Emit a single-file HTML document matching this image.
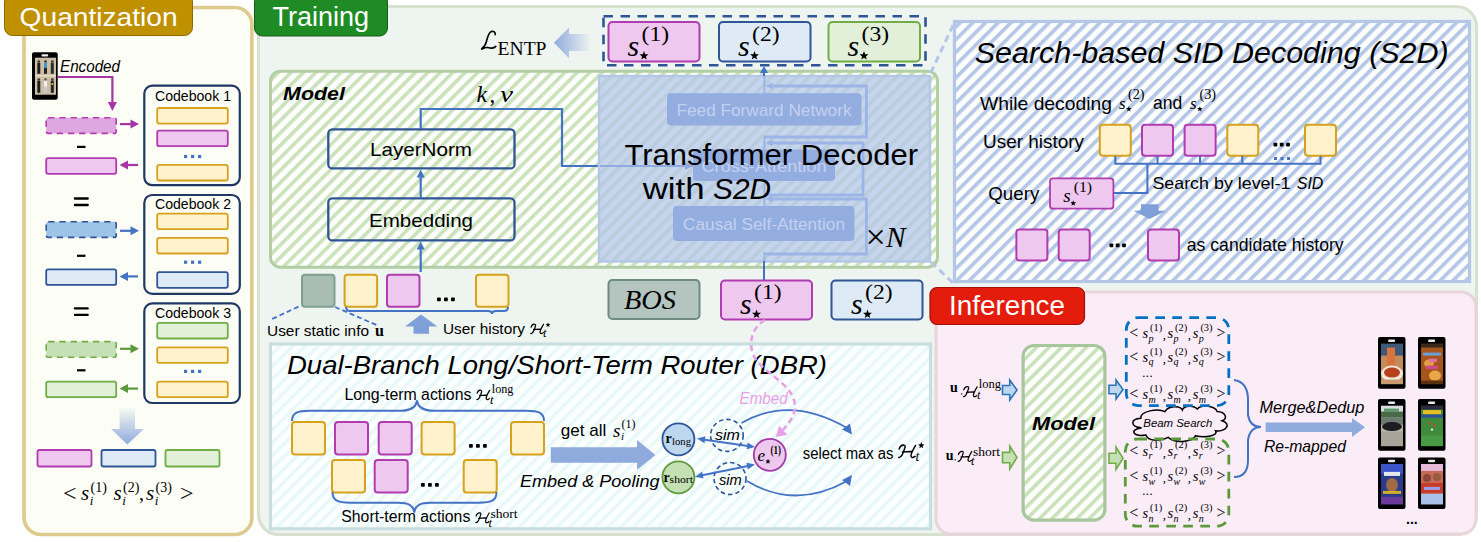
<!DOCTYPE html>
<html><head><meta charset="utf-8"><style>
html,body{margin:0;padding:0;background:#fff;width:1481px;height:542px;overflow:hidden;}
svg{display:block;font-family:"Liberation Sans", sans-serif;}
</style></head><body>
<svg width="1481" height="542" viewBox="0 0 1481 542">
<defs>
 <filter id="blur1" x="-10%" y="-10%" width="120%" height="120%"><feGaussianBlur stdDeviation="0.7"/></filter>
 <pattern id="hgreen" width="8.8" height="8.8" patternUnits="userSpaceOnUse" patternTransform="rotate(45)">
  <rect width="8.8" height="8.8" fill="#ffffff"/><rect width="3.6" height="8.8" fill="#c9e2b9"/>
 </pattern>
 <pattern id="hblue" width="9" height="9" patternUnits="userSpaceOnUse" patternTransform="rotate(45)">
  <rect width="9" height="9" fill="#ffffff"/><rect width="3.7" height="9" fill="#b4c7e7"/>
 </pattern>
 <pattern id="hcyan" width="9" height="9" patternUnits="userSpaceOnUse" patternTransform="rotate(45)">
  <rect width="9" height="9" fill="#fbffff"/><rect width="3.2" height="9" fill="#e8f8f8"/>
 </pattern>
 <linearGradient id="gdown" x1="0" y1="0" x2="0" y2="1">
  <stop offset="0" stop-color="#8faadc" stop-opacity="0.05"/><stop offset="1" stop-color="#8faadc" stop-opacity="1"/>
 </linearGradient>
 <linearGradient id="gleft" x1="0" y1="0" x2="1" y2="0">
  <stop offset="0" stop-color="#8faadc" stop-opacity="1"/><stop offset="1" stop-color="#8faadc" stop-opacity="0.05"/>
 </linearGradient>
</defs>
<rect x="24" y="7.5" width="227.9" height="527" rx="17" fill="#fcfdf5" stroke="#dccb8c" stroke-width="3.6" />
<rect x="4.5" y="-6" width="188" height="41.5" rx="8" fill="#bf9000" stroke="#8c6a00" stroke-width="1" />
<text x="19.6" y="25.7" font-family="'Liberation Sans', sans-serif" font-size="25" fill="#fff" font-weight="normal" font-style="normal" text-anchor="start" textLength="158" lengthAdjust="spacingAndGlyphs" >Quantization</text>
<rect x="32" y="52.2" width="25.7" height="47.6" rx="2" fill="#000" stroke="none" stroke-width="0" />
<rect x="41.509" y="54.342000000000006" width="6.682" height="2.142" rx="1" fill="#eee" stroke="none" stroke-width="0" />
<g filter="url(#blur1)"><rect x="35" y="57.7" width="21" height="37" fill="#cdbfa5"/><rect x="35" y="75" width="21" height="1.5" fill="#e8dcc0"/><circle cx="38.8" cy="61.5" r="1.3" fill="#333"/><rect x="37.3" y="62.8" width="3" height="11" fill="#1e1e1e"/><circle cx="45.5" cy="61.5" r="1.3" fill="#3a3030"/><rect x="44" y="62.8" width="3" height="5" fill="#3a98d8"/><rect x="44" y="67.8" width="3" height="6" fill="#222"/><circle cx="52.3" cy="61.5" r="1.3" fill="#333"/><rect x="50.8" y="62.8" width="3" height="11" fill="#2a2a2a"/><circle cx="38.8" cy="79.5" r="1.3" fill="#333"/><rect x="37.3" y="80.8" width="3" height="12" fill="#1e1e1e"/><circle cx="45.5" cy="79.5" r="1.3" fill="#6a5040"/><rect x="44" y="80.8" width="3" height="6" fill="#f0f0f0"/><rect x="44" y="86.8" width="3" height="6" fill="#c8c8c8"/><circle cx="52.3" cy="79.5" r="1.3" fill="#333"/><rect x="50.8" y="80.8" width="3" height="12" fill="#222"/><rect x="51.5" y="83" width="1.6" height="2" fill="#e8c020"/></g>
<text x="60" y="71.6" font-family="'Liberation Sans', sans-serif" font-size="16" fill="#000" font-weight="normal" font-style="italic" text-anchor="start" textLength="60" lengthAdjust="spacingAndGlyphs" >Encoded</text>
<path d="M57.5 77 H112.4 V103" fill="none" stroke="#a635a6" stroke-width="2.2" />
<polygon points="112.40,111.00 107.90,102.00 116.90,102.00" fill="#a635a6"/>
<rect x="144.3" y="85.6" width="95.5" height="99.60000000000001" rx="8" fill="none" stroke="#1f3864" stroke-width="2.2" />
<text x="155" y="101.1" font-family="'Liberation Sans', sans-serif" font-size="14" fill="#000" font-weight="normal" font-style="normal" text-anchor="start" textLength="76" lengthAdjust="spacingAndGlyphs" >Codebook 1</text>
<rect x="157.2" y="108.0" width="70.6" height="15.6" rx="2" fill="#fff2cc" stroke="#d6a21e" stroke-width="1.8" />
<rect x="157.2" y="130.6" width="70.6" height="15.6" rx="2" fill="#eec8ee" stroke="#b03cb0" stroke-width="1.8" />
<rect x="157.2" y="164.9" width="70.6" height="15.6" rx="2" fill="#fff2cc" stroke="#d6a21e" stroke-width="1.8" />
<rect x="184" y="154.9" width="3.2" height="3.2" rx="0" fill="#4472c4" stroke="none" stroke-width="0" />
<rect x="191" y="154.9" width="3.2" height="3.2" rx="0" fill="#4472c4" stroke="none" stroke-width="0" />
<rect x="198" y="154.9" width="3.2" height="3.2" rx="0" fill="#4472c4" stroke="none" stroke-width="0" />
<rect x="46.2" y="117.8" width="70" height="15.6" rx="2" fill="#dfa7df" stroke="#b03cb0" stroke-width="1.6" stroke-dasharray="6.3 4.9"/>
<rect x="46.2" y="158.20000000000002" width="70" height="15.6" rx="2" fill="#eec8ee" stroke="#b03cb0" stroke-width="1.8" />
<path d="M120 124.1 H131" fill="none" stroke="#a635a6" stroke-width="2.2" />
<polygon points="139.00,124.10 130.50,128.60 130.50,119.60" fill="#a635a6"/>
<path d="M127 165 H138" fill="none" stroke="#a635a6" stroke-width="2.2" />
<polygon points="119.50,165.00 128.00,160.50 128.00,169.50" fill="#a635a6"/>
<rect x="77" y="145.8" width="8.5" height="2.2" rx="0" fill="#000" stroke="none" stroke-width="0" />
<rect x="144.3" y="195.0" width="95.5" height="98.89999999999999" rx="8" fill="none" stroke="#1f3864" stroke-width="2.2" />
<text x="155" y="209.3" font-family="'Liberation Sans', sans-serif" font-size="14" fill="#000" font-weight="normal" font-style="normal" text-anchor="start" textLength="76" lengthAdjust="spacingAndGlyphs" >Codebook 2</text>
<rect x="157.2" y="213.6" width="70.6" height="15.6" rx="2" fill="#fff2cc" stroke="#d6a21e" stroke-width="1.8" />
<rect x="157.2" y="237.9" width="70.6" height="15.6" rx="2" fill="#fff2cc" stroke="#d6a21e" stroke-width="1.8" />
<rect x="157.2" y="272.2" width="70.6" height="15.6" rx="2" fill="#deebf7" stroke="#2f5597" stroke-width="1.8" />
<rect x="184" y="260.59999999999997" width="3.2" height="3.2" rx="0" fill="#4472c4" stroke="none" stroke-width="0" />
<rect x="191" y="260.59999999999997" width="3.2" height="3.2" rx="0" fill="#4472c4" stroke="none" stroke-width="0" />
<rect x="198" y="260.59999999999997" width="3.2" height="3.2" rx="0" fill="#4472c4" stroke="none" stroke-width="0" />
<rect x="46.2" y="221.8" width="70" height="15.6" rx="2" fill="#9dc3e6" stroke="#2f5597" stroke-width="1.6" stroke-dasharray="6.3 4.9"/>
<rect x="46.2" y="269.29999999999995" width="70" height="15.6" rx="2" fill="#deebf7" stroke="#2f5597" stroke-width="1.8" />
<path d="M120 230.8 H131" fill="none" stroke="#4472c4" stroke-width="2.2" />
<polygon points="139.00,230.80 130.50,235.30 130.50,226.30" fill="#4472c4"/>
<path d="M127 276.4 H138" fill="none" stroke="#4472c4" stroke-width="2.2" />
<polygon points="119.50,276.40 128.00,271.90 128.00,280.90" fill="#4472c4"/>
<rect x="77" y="254.70000000000002" width="8.5" height="2.2" rx="0" fill="#000" stroke="none" stroke-width="0" />
<rect x="73.8" y="197.35" width="15" height="2.3" rx="1" fill="#000" stroke="none" stroke-width="0" />
<rect x="73.8" y="203.85" width="15" height="2.3" rx="1" fill="#000" stroke="none" stroke-width="0" />
<rect x="144.3" y="303.40000000000003" width="95.5" height="99.60000000000001" rx="8" fill="none" stroke="#1f3864" stroke-width="2.2" />
<text x="155" y="317.6" font-family="'Liberation Sans', sans-serif" font-size="14" fill="#000" font-weight="normal" font-style="normal" text-anchor="start" textLength="76" lengthAdjust="spacingAndGlyphs" >Codebook 3</text>
<rect x="157.2" y="322.9" width="70.6" height="15.6" rx="2" fill="#e2f0d9" stroke="#70ad47" stroke-width="1.8" />
<rect x="157.2" y="347.29999999999995" width="70.6" height="15.6" rx="2" fill="#fff2cc" stroke="#d6a21e" stroke-width="1.8" />
<rect x="157.2" y="381.59999999999997" width="70.6" height="15.6" rx="2" fill="#fff2cc" stroke="#d6a21e" stroke-width="1.8" />
<rect x="184" y="369.79999999999995" width="3.2" height="3.2" rx="0" fill="#4472c4" stroke="none" stroke-width="0" />
<rect x="191" y="369.79999999999995" width="3.2" height="3.2" rx="0" fill="#4472c4" stroke="none" stroke-width="0" />
<rect x="198" y="369.79999999999995" width="3.2" height="3.2" rx="0" fill="#4472c4" stroke="none" stroke-width="0" />
<rect x="46.2" y="341.6" width="70" height="15.6" rx="2" fill="#c5e0b4" stroke="#70ad47" stroke-width="1.6" stroke-dasharray="6.3 4.9"/>
<rect x="46.2" y="381.59999999999997" width="70" height="15.6" rx="2" fill="#e2f0d9" stroke="#70ad47" stroke-width="1.8" />
<path d="M120 348.8 H131" fill="none" stroke="#5a9a3a" stroke-width="2.2" />
<polygon points="139.00,348.80 130.50,353.30 130.50,344.30" fill="#5a9a3a"/>
<path d="M127 388.6 H138" fill="none" stroke="#5a9a3a" stroke-width="2.2" />
<polygon points="119.50,388.60 128.00,384.10 128.00,393.10" fill="#5a9a3a"/>
<rect x="77" y="369.2" width="8.5" height="2.2" rx="0" fill="#000" stroke="none" stroke-width="0" />
<rect x="73.8" y="307.15000000000003" width="15" height="2.3" rx="1" fill="#000" stroke="none" stroke-width="0" />
<rect x="73.8" y="313.65000000000003" width="15" height="2.3" rx="1" fill="#000" stroke="none" stroke-width="0" />
<path d="M119.6 407.7 H135 V429 H144 L127.3 444.6 L111 429 H119.6 Z" fill="url(#gdown)" stroke="none" stroke-width="0" />
<rect x="37.5" y="450" width="54" height="16.5" rx="2" fill="#eec8ee" stroke="#b03cb0" stroke-width="1.8" />
<rect x="101.5" y="450" width="54" height="16.5" rx="2" fill="#deebf7" stroke="#2f5597" stroke-width="1.8" />
<rect x="165.5" y="450" width="54" height="16.5" rx="2" fill="#e2f0d9" stroke="#70ad47" stroke-width="1.8" />
<text x="63" y="501" font-family="'Liberation Serif', serif" font-size="24" fill="#000" font-weight="normal" font-style="normal" text-anchor="start" >&lt;</text>
<text x="81" y="500" font-family="'Liberation Serif', serif" font-size="21" fill="#000" font-weight="normal" font-style="italic" text-anchor="start" >s</text>
<text x="89.8" y="504.5" font-family="'Liberation Serif', serif" font-size="13" fill="#000" font-weight="normal" font-style="italic" text-anchor="start" >i</text>
<text x="90.5" y="492" font-family="'Liberation Serif', serif" font-size="14" fill="#000" font-weight="normal" font-style="normal" text-anchor="start" >(1)</text>
<text x="113.5" y="500" font-family="'Liberation Serif', serif" font-size="21" fill="#000" font-weight="normal" font-style="italic" text-anchor="start" >s</text>
<text x="122.3" y="504.5" font-family="'Liberation Serif', serif" font-size="13" fill="#000" font-weight="normal" font-style="italic" text-anchor="start" >i</text>
<text x="123.0" y="492" font-family="'Liberation Serif', serif" font-size="14" fill="#000" font-weight="normal" font-style="normal" text-anchor="start" >(2)</text>
<text x="139" y="500" font-family="'Liberation Serif', serif" font-size="20" fill="#000" font-weight="normal" font-style="normal" text-anchor="start" >,</text>
<text x="146" y="500" font-family="'Liberation Serif', serif" font-size="21" fill="#000" font-weight="normal" font-style="italic" text-anchor="start" >s</text>
<text x="154.8" y="504.5" font-family="'Liberation Serif', serif" font-size="13" fill="#000" font-weight="normal" font-style="italic" text-anchor="start" >i</text>
<text x="155.5" y="492" font-family="'Liberation Serif', serif" font-size="14" fill="#000" font-weight="normal" font-style="normal" text-anchor="start" >(3)</text>
<text x="180" y="501" font-family="'Liberation Serif', serif" font-size="24" fill="#000" font-weight="normal" font-style="normal" text-anchor="start" >&gt;</text>
<rect x="258.5" y="6.5" width="1218" height="528" rx="20" fill="#eef4ef" stroke="#d8e0cf" stroke-width="3" />
<rect x="254.5" y="-6" width="133" height="42" rx="8" fill="#1e8b24" stroke="#145c17" stroke-width="1" />
<text x="272.5" y="26" font-family="'Liberation Sans', sans-serif" font-size="27" fill="#fff" font-weight="normal" font-style="normal" text-anchor="start" textLength="96.5" lengthAdjust="spacingAndGlyphs" >Training</text>
<path transform="translate(481,31) scale(1.0)" d="M14.2,3.6 C14.6,1.2 12.6,-0.2 10.4,0.6 C7.6,1.6 6.6,6 5.6,10 C4.8,13.2 3.6,15.6 1.2,17.2 C0.2,17.9 0.4,18.4 1.6,17.8 C4.2,16.4 6.6,16.2 9.2,16.9 C11.2,17.4 13.2,17.2 14.8,15.4" fill="none" stroke="#000" stroke-width="1.600" stroke-linecap="round"/>
<text x="497.5" y="54.7" font-family="'Liberation Serif', serif" font-size="19" fill="#000" font-weight="normal" font-style="normal" text-anchor="start" textLength="49" lengthAdjust="spacingAndGlyphs" >ENTP</text>
<path d="M554 42.8 L569 27.5 V34 H589.4 V51 H569 V58.3 Z" fill="url(#gleft)" stroke="none" stroke-width="0" />
<rect x="603.5" y="16.3" width="322" height="49" rx="0" fill="none" stroke="#2f5597" stroke-width="2.6" stroke-dasharray="9.5 7.5"/>
<rect x="608.5" y="22" width="91" height="39.5" rx="4" fill="#eec8ee" stroke="#b03cb0" stroke-width="2" />
<rect x="719" y="22" width="91.5" height="39.5" rx="4" fill="#deebf7" stroke="#2f5597" stroke-width="2" />
<rect x="828.5" y="22" width="91.5" height="39.5" rx="4" fill="#e2f0d9" stroke="#70ad47" stroke-width="2" />
<text x="627.5" y="55.5" font-family="'Liberation Serif', serif" font-size="30" fill="#000" font-weight="normal" font-style="italic" text-anchor="start" >s</text>
<polygon points="644.00,51.09 645.16,54.20 648.48,54.34 645.88,56.41 646.77,59.61 644.00,57.78 641.23,59.61 642.12,56.41 639.52,54.34 642.84,54.20" fill="#000"/>
<text x="641.6" y="40.9" font-family="'Liberation Serif', serif" font-size="22" fill="#000" font-weight="normal" font-style="normal" text-anchor="start" textLength="27.5" lengthAdjust="spacingAndGlyphs" >(1)</text>
<text x="738" y="55.5" font-family="'Liberation Serif', serif" font-size="30" fill="#000" font-weight="normal" font-style="italic" text-anchor="start" >s</text>
<polygon points="754.50,51.09 755.66,54.20 758.98,54.34 756.38,56.41 757.27,59.61 754.50,57.78 751.73,59.61 752.62,56.41 750.02,54.34 753.34,54.20" fill="#000"/>
<text x="752.1" y="40.9" font-family="'Liberation Serif', serif" font-size="22" fill="#000" font-weight="normal" font-style="normal" text-anchor="start" textLength="27.5" lengthAdjust="spacingAndGlyphs" >(2)</text>
<text x="847.5" y="55.5" font-family="'Liberation Serif', serif" font-size="30" fill="#000" font-weight="normal" font-style="italic" text-anchor="start" >s</text>
<polygon points="864.00,51.09 865.16,54.20 868.48,54.34 865.88,56.41 866.77,59.61 864.00,57.78 861.23,59.61 862.12,56.41 859.52,54.34 862.84,54.20" fill="#000"/>
<text x="861.6" y="40.9" font-family="'Liberation Serif', serif" font-size="22" fill="#000" font-weight="normal" font-style="normal" text-anchor="start" textLength="27.5" lengthAdjust="spacingAndGlyphs" >(3)</text>
<rect x="270.5" y="71.2" width="667" height="196" rx="10" fill="url(#hgreen)" stroke="#b3cda5" stroke-width="3" />
<text x="283" y="100" font-family="'Liberation Sans', sans-serif" font-size="19" fill="#000" font-weight="bold" font-style="italic" text-anchor="start" textLength="62" lengthAdjust="spacingAndGlyphs" >Model</text>
<rect x="328.3" y="129.4" width="186.2" height="39" rx="4" fill="none" stroke="#2f5597" stroke-width="2.3" />
<rect x="328.3" y="198.4" width="186.2" height="42" rx="4" fill="none" stroke="#2f5597" stroke-width="2.3" />
<text x="370" y="156" font-family="'Liberation Sans', sans-serif" font-size="19" fill="#000" font-weight="normal" font-style="normal" text-anchor="start" textLength="102" lengthAdjust="spacingAndGlyphs" >LayerNorm</text>
<text x="369" y="227.4" font-family="'Liberation Sans', sans-serif" font-size="19" fill="#000" font-weight="normal" font-style="normal" text-anchor="start" textLength="104" lengthAdjust="spacingAndGlyphs" >Embedding</text>
<text x="476.5" y="102.2" font-family="'Liberation Serif', serif" font-size="24" fill="#000" font-weight="normal" font-style="italic" text-anchor="start" >k</text>
<text x="489.5" y="102.2" font-family="'Liberation Serif', serif" font-size="23" fill="#000" font-weight="normal" font-style="normal" text-anchor="start" >,</text>
<text x="500" y="102.2" font-family="'Liberation Serif', serif" font-size="23" fill="#000" font-weight="normal" font-style="italic" text-anchor="start" textLength="13" lengthAdjust="spacingAndGlyphs" >v</text>
<path d="M420.7 129 V109 H562 V166 H693" fill="none" stroke="#4472c4" stroke-width="2.2" />
<path d="M420.7 198 V176" fill="none" stroke="#4472c4" stroke-width="2.2" />
<polygon points="420.70,169.50 424.70,177.50 416.70,177.50" fill="#4472c4"/>
<path d="M420.7 272 V248" fill="none" stroke="#4472c4" stroke-width="2.2" />
<polygon points="420.70,241.50 424.70,249.50 416.70,249.50" fill="#4472c4"/>
<rect x="599" y="76" width="331" height="185.5" rx="0" fill="#b4c7e7" stroke="#b4c7e7" stroke-width="2.4" fill-opacity="0.76"/>
<path d="M764.4 262 V252 M764.4 241 V136 M764.4 125 V76" fill="none" stroke="#9cb5e6" stroke-width="2" />
<polygon points="764.40,206.00 767.90,213.00 760.90,213.00" fill="#9cb5e6"/>
<polygon points="764.40,150.00 767.90,157.00 760.90,157.00" fill="#9cb5e6"/>
<polygon points="764.40,93.30 767.90,100.30 760.90,100.30" fill="#9cb5e6"/>
<path d="M764.4 254 H866.4 V199 H772" fill="none" stroke="#9cb5e6" stroke-width="2.8" />
<polygon points="765.50,199.00 772.50,195.50 772.50,202.50" fill="#9cb5e6"/>
<path d="M764.4 195 H863 V143 H772" fill="none" stroke="#9cb5e6" stroke-width="2.8" />
<polygon points="765.50,143.00 772.50,139.50 772.50,146.50" fill="#9cb5e6"/>
<path d="M764.4 137 H866.4 V86 H772" fill="none" stroke="#9cb5e6" stroke-width="2.8" />
<polygon points="765.50,86.00 772.50,82.50 772.50,89.50" fill="#9cb5e6"/>
<rect x="667" y="93.3" width="194.5" height="32.2" rx="4" fill="#93ade0" stroke="none" stroke-width="0" />
<rect x="693" y="149.5" width="142" height="31.5" rx="4" fill="#93ade0" stroke="none" stroke-width="0" />
<rect x="673" y="206" width="181.5" height="35" rx="4" fill="#93ade0" stroke="none" stroke-width="0" />
<path d="M600 166 H686" fill="none" stroke="#8eaadf" stroke-width="2.2" />
<polygon points="693.00,166.00 685.00,170.00 685.00,162.00" fill="#8eaadf"/>
<text x="764" y="116" font-family="'Liberation Sans', sans-serif" font-size="17" fill="#c3d1ef" font-weight="normal" font-style="normal" text-anchor="middle" textLength="175" lengthAdjust="spacingAndGlyphs" >Feed Forward Network</text>
<text x="764" y="172" font-family="'Liberation Sans', sans-serif" font-size="17" fill="#c3d1ef" font-weight="normal" font-style="normal" text-anchor="middle" textLength="125" lengthAdjust="spacingAndGlyphs" >Cross-Attention</text>
<text x="764" y="230" font-family="'Liberation Sans', sans-serif" font-size="17" fill="#c3d1ef" font-weight="normal" font-style="normal" text-anchor="middle" textLength="162" lengthAdjust="spacingAndGlyphs" >Causal Self-Attention</text>
<text x="624.5" y="164.7" font-family="'Liberation Sans', sans-serif" font-size="30" fill="#000" font-weight="normal" font-style="normal" text-anchor="start" textLength="293.5" lengthAdjust="spacingAndGlyphs" >Transformer Decoder</text>
<text x="642.7" y="198.7" font-family="'Liberation Sans', sans-serif" font-size="30" fill="#000" font-weight="normal" font-style="normal" text-anchor="start" textLength="62" lengthAdjust="spacingAndGlyphs" >with</text>
<text x="713" y="198.7" font-family="'Liberation Sans', sans-serif" font-size="30" fill="#000" font-weight="normal" font-style="italic" text-anchor="start" textLength="58" lengthAdjust="spacingAndGlyphs" >S2D</text>
<text x="865.6" y="248.5" font-family="'Liberation Serif', serif" font-size="36" fill="#000" font-weight="normal" font-style="normal" text-anchor="start" >×</text>
<text x="886" y="246.8" font-family="'Liberation Serif', serif" font-size="28.5" fill="#000" font-weight="normal" font-style="italic" text-anchor="start" textLength="19.5" lengthAdjust="spacingAndGlyphs" >N</text>
<path d="M764 76 V72" fill="none" stroke="#4472c4" stroke-width="2" />
<polygon points="764.00,66.00 768.00,73.00 760.00,73.00" fill="#4472c4"/>
<path d="M930.7 73 L954.8 21.6 M931 262 L953 283" fill="none" stroke="#b4c7e7" stroke-width="3" stroke-dasharray="7 4.5"/>
<rect x="954.5" y="21.5" width="515" height="260" rx="0" fill="url(#hblue)" stroke="#b4c7e7" stroke-width="3.2" />
<text x="974.7" y="63" font-family="'Liberation Sans', sans-serif" font-size="29" fill="#000" font-weight="normal" font-style="italic" text-anchor="start" textLength="474" lengthAdjust="spacingAndGlyphs" >Search-based SID Decoding (S2D)</text>
<text x="980" y="109.8" font-family="'Liberation Sans', sans-serif" font-size="19" fill="#000" font-weight="normal" font-style="normal" text-anchor="start" textLength="132" lengthAdjust="spacingAndGlyphs" >While decoding</text>
<text x="1119" y="108.6" font-family="'Liberation Serif', serif" font-size="17" fill="#000" font-weight="normal" font-style="italic" text-anchor="start" >s</text>
<polygon points="1128.85,106.17 1129.57,108.08 1131.61,108.17 1130.01,109.45 1130.55,111.42 1128.85,110.29 1127.15,111.42 1127.69,109.45 1126.09,108.17 1128.13,108.08" fill="#000"/>
<text x="1127.99" y="99.46" font-family="'Liberation Serif', serif" font-size="14" fill="#000" font-weight="normal" font-style="normal" text-anchor="start" textLength="16.6" lengthAdjust="spacingAndGlyphs" >(2)</text>
<text x="1153" y="108.6" font-family="'Liberation Sans', sans-serif" font-size="19" fill="#000" font-weight="normal" font-style="normal" text-anchor="start" textLength="29.3" lengthAdjust="spacingAndGlyphs" >and</text>
<text x="1190" y="108.6" font-family="'Liberation Serif', serif" font-size="17" fill="#000" font-weight="normal" font-style="italic" text-anchor="start" >s</text>
<polygon points="1199.85,106.17 1200.57,108.08 1202.61,108.17 1201.01,109.45 1201.55,111.42 1199.85,110.29 1198.15,111.42 1198.69,109.45 1197.09,108.17 1199.13,108.08" fill="#000"/>
<text x="1199.49" y="99.46" font-family="'Liberation Serif', serif" font-size="14" fill="#000" font-weight="normal" font-style="normal" text-anchor="start" textLength="16.6" lengthAdjust="spacingAndGlyphs" >(3)</text>
<text x="983" y="147.8" font-family="'Liberation Sans', sans-serif" font-size="19" fill="#000" font-weight="normal" font-style="normal" text-anchor="start" textLength="101" lengthAdjust="spacingAndGlyphs" >User history</text>
<rect x="1099.8" y="124.8" width="31" height="31" rx="3" fill="#fff2cc" stroke="#d6a21e" stroke-width="2" />
<rect x="1142" y="124.8" width="31" height="31" rx="3" fill="#eec8ee" stroke="#b03cb0" stroke-width="2" />
<rect x="1184.6" y="124.8" width="31" height="31" rx="3" fill="#eec8ee" stroke="#b03cb0" stroke-width="2" />
<rect x="1227.3" y="124.8" width="31" height="31" rx="3" fill="#fff2cc" stroke="#d6a21e" stroke-width="2" />
<rect x="1305" y="124.8" width="31" height="31" rx="3" fill="#fff2cc" stroke="#d6a21e" stroke-width="2" />
<rect x="1273.5" y="142.8" width="3.8" height="3.8" rx="0.8" fill="#000" stroke="none" stroke-width="0" />
<rect x="1279.8" y="142.8" width="3.8" height="3.8" rx="0.8" fill="#000" stroke="none" stroke-width="0" />
<rect x="1286.1" y="142.8" width="3.8" height="3.8" rx="0.8" fill="#000" stroke="none" stroke-width="0" />
<rect x="1274.0" y="157" width="3" height="3" rx="0" fill="#4472c4" stroke="none" stroke-width="0" />
<rect x="1280.5" y="157" width="3" height="3" rx="0" fill="#4472c4" stroke="none" stroke-width="0" />
<rect x="1287.0" y="157" width="3" height="3" rx="0" fill="#4472c4" stroke="none" stroke-width="0" />
<path d="M1115.3 156 V163.8 H1320.5 V156 M1157.5 156 V163.8 M1200 156 V163.8 M1242.3 163.8 V156 M1147.4 163.8 V193 H1113" fill="none" stroke="#4472c4" stroke-width="2" />
<text x="988.3" y="200" font-family="'Liberation Sans', sans-serif" font-size="19" fill="#000" font-weight="normal" font-style="normal" text-anchor="start" textLength="51" lengthAdjust="spacingAndGlyphs" >Query</text>
<rect x="1050" y="178.3" width="63.4" height="30.4" rx="3" fill="#eec8ee" stroke="#b03cb0" stroke-width="1.8" />
<text x="1063.3" y="201.6" font-family="'Liberation Serif', serif" font-size="19" fill="#000" font-weight="normal" font-style="italic" text-anchor="start" >s</text>
<polygon points="1073.25,200.19 1074.02,202.24 1076.20,202.33 1074.49,203.69 1075.07,205.80 1073.25,204.59 1071.43,205.80 1072.01,203.69 1070.30,202.33 1072.48,202.24" fill="#000"/>
<text x="1073.73" y="191.62" font-family="'Liberation Serif', serif" font-size="15" fill="#000" font-weight="normal" font-style="normal" text-anchor="start" textLength="18.4" lengthAdjust="spacingAndGlyphs" >(1)</text>
<text x="1152.4" y="188.5" font-family="'Liberation Sans', sans-serif" font-size="16.5" fill="#000" font-weight="normal" font-style="normal" text-anchor="start" textLength="138" lengthAdjust="spacingAndGlyphs" >Search by level-1</text>
<text x="1296.8" y="188.5" font-family="'Liberation Sans', sans-serif" font-size="16.5" fill="#000" font-weight="normal" font-style="italic" text-anchor="start" textLength="26.5" lengthAdjust="spacingAndGlyphs" >SID</text>
<path d="M1141 204.3 H1158.5 V210.8 H1166 L1149.4 218.9 L1133.6 210.8 H1141 Z" fill="#7f9fd8" stroke="none" stroke-width="0" />
<rect x="1016.4" y="229.4" width="31" height="31" rx="3" fill="#eec8ee" stroke="#b03cb0" stroke-width="2" />
<rect x="1058.7" y="229.4" width="31" height="31" rx="3" fill="#eec8ee" stroke="#b03cb0" stroke-width="2" />
<rect x="1148" y="229.4" width="31" height="31" rx="3" fill="#eec8ee" stroke="#b03cb0" stroke-width="2" />
<rect x="1109.5" y="243.5" width="3.8" height="3.8" rx="0.8" fill="#000" stroke="none" stroke-width="0" />
<rect x="1115.8" y="243.5" width="3.8" height="3.8" rx="0.8" fill="#000" stroke="none" stroke-width="0" />
<rect x="1122.1" y="243.5" width="3.8" height="3.8" rx="0.8" fill="#000" stroke="none" stroke-width="0" />
<text x="1186.7" y="250.5" font-family="'Liberation Sans', sans-serif" font-size="19" fill="#000" font-weight="normal" font-style="normal" text-anchor="start" textLength="157" lengthAdjust="spacingAndGlyphs" >as candidate history</text>
<rect x="302" y="274.8" width="32.5" height="32" rx="3" fill="#a9bdb5" stroke="#7f9f8f" stroke-width="2" />
<rect x="344.6" y="274.8" width="32.5" height="32" rx="3" fill="#fff2cc" stroke="#d6a21e" stroke-width="2" />
<rect x="387" y="274.8" width="32.5" height="32" rx="3" fill="#eec8ee" stroke="#b03cb0" stroke-width="2" />
<rect x="476" y="274.8" width="32.5" height="32" rx="3" fill="#fff2cc" stroke="#d6a21e" stroke-width="2" />
<rect x="437" y="297.5" width="3.8" height="3.8" rx="0.8" fill="#000" stroke="none" stroke-width="0" />
<rect x="444" y="297.5" width="3.8" height="3.8" rx="0.8" fill="#000" stroke="none" stroke-width="0" />
<rect x="451" y="297.5" width="3.8" height="3.8" rx="0.8" fill="#000" stroke="none" stroke-width="0" />
<path d="M346 307 Q346 311 350 311 H488 Q492 311 492 314 Q492 311 496 311 H504 Q508 311 508 307" fill="none" stroke="#4472c4" stroke-width="2" />
<path d="M298.5 306.6 L270 320 M335 307 L376.5 325" fill="none" stroke="#4472c4" stroke-width="1.8" stroke-dasharray="5 3"/>
<text x="267" y="335.5" font-family="'Liberation Sans', sans-serif" font-size="15" fill="#000" font-weight="normal" font-style="normal" text-anchor="start" textLength="102" lengthAdjust="spacingAndGlyphs" >User static info</text>
<text x="375" y="335.5" font-family="'Liberation Serif', serif" font-size="16" fill="#000" font-weight="bold" font-style="normal" text-anchor="start" >u</text>
<path d="M421 314.5 L437.3 326.4 H429 V333.7 H413.5 V326.4 H405 Z" fill="#7f9fd8" stroke="none" stroke-width="0" />
<text x="443" y="333.8" font-family="'Liberation Sans', sans-serif" font-size="15" fill="#000" font-weight="normal" font-style="normal" text-anchor="start" textLength="82" lengthAdjust="spacingAndGlyphs" >User history</text>
<path transform="translate(530.5,323.9) scale(0.9286,1.0000)" d="M0.6,3.3 C1.4,1.2 3.2,0.1 4.6,0.4 C5.4,0.6 5.6,1.2 5.5,1.6 C4.6,4.5 3.6,7.6 2.3,8.6 C1.6,9.3 0.6,9.8 0.3,9.6 M3.3,5.6 C6,5.4 8.5,5.3 10.9,5.2 M14,0.5 C12.4,3 10.6,6 10.3,8 C10.1,9.4 11.2,9.9 12,9.7 C12.8,9.5 13.4,9 13.7,8.8" fill="none" stroke="#000" stroke-width="1.296" stroke-linecap="round"/>
<text x="543" y="336.5" font-family="'Liberation Serif', serif" font-size="12.5" fill="#000" font-weight="normal" font-style="italic" text-anchor="start" >t</text>
<polygon points="548.00,322.40 548.64,324.12 550.47,324.20 549.04,325.34 549.53,327.10 548.00,326.09 546.47,327.10 546.96,325.34 545.53,324.20 547.36,324.12" fill="#000"/>
<rect x="608.5" y="280" width="91" height="39" rx="4" fill="#b4c5bf" stroke="#6f8a80" stroke-width="2" />
<text x="624" y="308.7" font-family="'Liberation Serif', serif" font-size="27" fill="#000" font-weight="normal" font-style="italic" text-anchor="start" textLength="52" lengthAdjust="spacingAndGlyphs" >BOS</text>
<rect x="721" y="280.5" width="91" height="39" rx="4" fill="#eec8ee" stroke="#b03cb0" stroke-width="2" />
<rect x="831.5" y="280.5" width="91" height="39" rx="4" fill="#deebf7" stroke="#2f5597" stroke-width="2" />
<text x="740" y="314" font-family="'Liberation Serif', serif" font-size="30" fill="#000" font-weight="normal" font-style="italic" text-anchor="start" >s</text>
<polygon points="756.50,309.59 757.66,312.70 760.98,312.84 758.38,314.91 759.27,318.11 756.50,316.28 753.73,318.11 754.62,314.91 752.02,312.84 755.34,312.70" fill="#000"/>
<text x="754.1" y="299.4" font-family="'Liberation Serif', serif" font-size="22" fill="#000" font-weight="normal" font-style="normal" text-anchor="start" textLength="27.5" lengthAdjust="spacingAndGlyphs" >(1)</text>
<text x="851" y="314" font-family="'Liberation Serif', serif" font-size="30" fill="#000" font-weight="normal" font-style="italic" text-anchor="start" >s</text>
<polygon points="867.50,309.59 868.66,312.70 871.98,312.84 869.38,314.91 870.27,318.11 867.50,316.28 864.73,318.11 865.62,314.91 863.02,312.84 866.34,312.70" fill="#000"/>
<text x="865.1" y="299.4" font-family="'Liberation Serif', serif" font-size="22" fill="#000" font-weight="normal" font-style="normal" text-anchor="start" textLength="27.5" lengthAdjust="spacingAndGlyphs" >(2)</text>
<path d="M764 261 V280" fill="none" stroke="#4472c4" stroke-width="2" />
<rect x="270.5" y="344" width="660" height="184.8" rx="0" fill="url(#hcyan)" stroke="#c9dede" stroke-width="3.2" />
<text x="287" y="374" font-family="'Liberation Sans', sans-serif" font-size="25" fill="#000" font-weight="normal" font-style="italic" text-anchor="start" textLength="540" lengthAdjust="spacingAndGlyphs" >Dual-Branch Long/Short-Term Router (DBR)</text>
<text x="344.4" y="400.3" font-family="'Liberation Sans', sans-serif" font-size="16" fill="#000" font-weight="normal" font-style="normal" text-anchor="start" textLength="127" lengthAdjust="spacingAndGlyphs" >Long-term actions</text>
<path transform="translate(476.6,389.9) scale(0.9286,1.0000)" d="M0.6,3.3 C1.4,1.2 3.2,0.1 4.6,0.4 C5.4,0.6 5.6,1.2 5.5,1.6 C4.6,4.5 3.6,7.6 2.3,8.6 C1.6,9.3 0.6,9.8 0.3,9.6 M3.3,5.6 C6,5.4 8.5,5.3 10.9,5.2 M14,0.5 C12.4,3 10.6,6 10.3,8 C10.1,9.4 11.2,9.9 12,9.7 C12.8,9.5 13.4,9 13.7,8.8" fill="none" stroke="#000" stroke-width="1.296" stroke-linecap="round"/>
<text x="490" y="404.3" font-family="'Liberation Serif', serif" font-size="12.5" fill="#000" font-weight="normal" font-style="italic" text-anchor="start" >t</text>
<text x="491.8" y="392.7" font-family="'Liberation Serif', serif" font-size="12" fill="#000" font-weight="normal" font-style="normal" text-anchor="start" textLength="21.6" lengthAdjust="spacingAndGlyphs" >long</text>
<path d="M292 421 C292 413 297 410.8 310 410.8 H400 C410 410.8 416 408 417 400.5 C418 408 424 410.8 434 410.8 H526 C539 410.8 544 413 544 421" fill="none" stroke="#4472c4" stroke-width="2" />
<rect x="292" y="422" width="33" height="32.5" rx="3" fill="#fff2cc" stroke="#d6a21e" stroke-width="2" />
<rect x="335" y="422" width="33" height="32.5" rx="3" fill="#eec8ee" stroke="#b03cb0" stroke-width="2" />
<rect x="378.7" y="422" width="33" height="32.5" rx="3" fill="#eec8ee" stroke="#b03cb0" stroke-width="2" />
<rect x="421.6" y="422" width="33" height="32.5" rx="3" fill="#fff2cc" stroke="#d6a21e" stroke-width="2" />
<rect x="511" y="422" width="33" height="32.5" rx="3" fill="#fff2cc" stroke="#d6a21e" stroke-width="2" />
<rect x="469" y="444" width="3.8" height="3.8" rx="0.8" fill="#000" stroke="none" stroke-width="0" />
<rect x="476" y="444" width="3.8" height="3.8" rx="0.8" fill="#000" stroke="none" stroke-width="0" />
<rect x="483" y="444" width="3.8" height="3.8" rx="0.8" fill="#000" stroke="none" stroke-width="0" />
<rect x="332" y="460" width="33" height="32.5" rx="3" fill="#fff2cc" stroke="#d6a21e" stroke-width="2" />
<rect x="374.7" y="460" width="33" height="32.5" rx="3" fill="#eec8ee" stroke="#b03cb0" stroke-width="2" />
<rect x="463.7" y="460" width="33" height="32.5" rx="3" fill="#fff2cc" stroke="#d6a21e" stroke-width="2" />
<rect x="421" y="483" width="3.8" height="3.8" rx="0.8" fill="#000" stroke="none" stroke-width="0" />
<rect x="428" y="483" width="3.8" height="3.8" rx="0.8" fill="#000" stroke="none" stroke-width="0" />
<rect x="435" y="483" width="3.8" height="3.8" rx="0.8" fill="#000" stroke="none" stroke-width="0" />
<path d="M332.5 492 C332.5 500 337 502.7 350 502.7 H398 C408 502.7 413.5 505 414.3 512.7 C415.1 505 420.6 502.7 430.6 502.7 H479 C492 502.7 496.5 500 496.5 492" fill="none" stroke="#4472c4" stroke-width="2" />
<text x="341.3" y="522.3" font-family="'Liberation Sans', sans-serif" font-size="16" fill="#000" font-weight="normal" font-style="normal" text-anchor="start" textLength="129" lengthAdjust="spacingAndGlyphs" >Short-term actions</text>
<path transform="translate(475.5,512.5) scale(0.9750,1.0500)" d="M0.6,3.3 C1.4,1.2 3.2,0.1 4.6,0.4 C5.4,0.6 5.6,1.2 5.5,1.6 C4.6,4.5 3.6,7.6 2.3,8.6 C1.6,9.3 0.6,9.8 0.3,9.6 M3.3,5.6 C6,5.4 8.5,5.3 10.9,5.2 M14,0.5 C12.4,3 10.6,6 10.3,8 C10.1,9.4 11.2,9.9 12,9.7 C12.8,9.5 13.4,9 13.7,8.8" fill="none" stroke="#000" stroke-width="1.235" stroke-linecap="round"/>
<text x="488.6" y="526.6" font-family="'Liberation Serif', serif" font-size="12.5" fill="#000" font-weight="normal" font-style="italic" text-anchor="start" >t</text>
<text x="490.4" y="517.7" font-family="'Liberation Serif', serif" font-size="12" fill="#000" font-weight="normal" font-style="normal" text-anchor="start" textLength="27.2" lengthAdjust="spacingAndGlyphs" >short</text>
<text x="560.8" y="435.8" font-family="'Liberation Sans', sans-serif" font-size="17" fill="#000" font-weight="normal" font-style="normal" text-anchor="start" textLength="45.6" lengthAdjust="spacingAndGlyphs" >get all</text>
<text x="613" y="436.6" font-family="'Liberation Serif', serif" font-size="19" fill="#000" font-weight="normal" font-style="italic" text-anchor="start" >s</text>
<text x="621" y="440" font-family="'Liberation Serif', serif" font-size="11" fill="#000" font-weight="normal" font-style="italic" text-anchor="start" >i</text>
<text x="621.5" y="428" font-family="'Liberation Serif', serif" font-size="12" fill="#000" font-weight="normal" font-style="normal" text-anchor="start" >(1)</text>
<path d="M550.8 447.3 H637.1 V440 L655.4 455 L637.1 469.8 V462.8 H550.8 Z" fill="#8faadc" stroke="none" stroke-width="0" />
<text x="520" y="487.2" font-family="'Liberation Sans', sans-serif" font-size="17" fill="#000" font-weight="normal" font-style="italic" text-anchor="start" textLength="139.5" lengthAdjust="spacingAndGlyphs" >Embed &amp; Pooling</text>
<circle cx="678.4" cy="439.3" r="16" fill="#bdd7ee" stroke="#2f5597" stroke-width="1.8"/>
<circle cx="678.4" cy="477.3" r="16" fill="#c5e0b4" stroke="#5f9a3c" stroke-width="1.8"/>
<text x="665.5" y="443" font-family="'Liberation Serif', serif" font-size="14" fill="#000" font-weight="bold" font-style="normal" text-anchor="start" >r</text>
<text x="672" y="444.8" font-family="'Liberation Serif', serif" font-size="11" fill="#000" font-weight="normal" font-style="normal" text-anchor="start" textLength="19" lengthAdjust="spacingAndGlyphs" >long</text>
<text x="663.5" y="481.5" font-family="'Liberation Serif', serif" font-size="14" fill="#000" font-weight="bold" font-style="normal" text-anchor="start" >r</text>
<text x="669.6" y="483.2" font-family="'Liberation Serif', serif" font-size="11" fill="#000" font-weight="normal" font-style="normal" text-anchor="start" textLength="23.4" lengthAdjust="spacingAndGlyphs" >short</text>
<ellipse cx="726.9" cy="435.4" rx="16.3" ry="16" fill="none" stroke="#2f5597" stroke-width="1.6" stroke-dasharray="4.5 3"/>
<ellipse cx="730" cy="478.5" rx="16" ry="16" fill="none" stroke="#2f5597" stroke-width="1.6" stroke-dasharray="4.5 3"/>
<text x="715" y="440" font-family="'Liberation Sans', sans-serif" font-size="14" fill="#000" font-weight="normal" font-style="italic" text-anchor="start" textLength="25" lengthAdjust="spacingAndGlyphs" >sim</text>
<text x="719" y="484.8" font-family="'Liberation Sans', sans-serif" font-size="14" fill="#000" font-weight="normal" font-style="italic" text-anchor="start" textLength="22.8" lengthAdjust="spacingAndGlyphs" >sim</text>
<circle cx="769.8" cy="454.8" r="16" fill="#eec8ee" stroke="#a23aa6" stroke-width="1.8"/>
<text x="757.5" y="460.5" font-family="'Liberation Serif', serif" font-size="17" fill="#000" font-weight="normal" font-style="italic" text-anchor="start" >e</text>
<polygon points="768.00,458.70 768.69,460.55 770.66,460.63 769.12,461.86 769.65,463.77 768.00,462.68 766.35,463.77 766.88,461.86 765.34,460.63 767.31,460.55" fill="#000"/>
<text x="770.6" y="454" font-family="'Liberation Serif', serif" font-size="12" fill="#000" font-weight="bold" font-style="normal" text-anchor="start" textLength="10.4" lengthAdjust="spacingAndGlyphs" >(1)</text>
<path d="M703 439.5 L748 446" fill="none" stroke="#4472c4" stroke-width="1.8" />
<polygon points="697.00,438.60 705.41,436.24 704.44,443.18" fill="#4472c4"/>
<polygon points="755.00,447.00 746.59,449.36 747.56,442.42" fill="#4472c4"/>
<path d="M701 475.5 L748 466" fill="none" stroke="#4472c4" stroke-width="1.8" />
<polygon points="695.00,476.70 702.16,471.70 703.53,478.56" fill="#4472c4"/>
<polygon points="755.00,464.60 747.84,469.60 746.47,462.74" fill="#4472c4"/>
<path d="M741.5 423 Q790 395 847 428" fill="none" stroke="#4472c4" stroke-width="1.8" />
<polygon points="852.00,434.60 842.00,429.60 850.00,423.60" fill="#4472c4"/>
<path d="M747 481 Q795 510 847 481" fill="none" stroke="#4472c4" stroke-width="1.8" />
<polygon points="852.00,475.00 850.00,486.00 842.00,480.00" fill="#4472c4"/>
<text x="802.8" y="459" font-family="'Liberation Sans', sans-serif" font-size="16" fill="#000" font-weight="normal" font-style="normal" text-anchor="start" textLength="90.7" lengthAdjust="spacingAndGlyphs" >select max as</text>
<path transform="translate(898.4,444.7) scale(1.2257,1.3200)" d="M0.6,3.3 C1.4,1.2 3.2,0.1 4.6,0.4 C5.4,0.6 5.6,1.2 5.5,1.6 C4.6,4.5 3.6,7.6 2.3,8.6 C1.6,9.3 0.6,9.8 0.3,9.6 M3.3,5.6 C6,5.4 8.5,5.3 10.9,5.2 M14,0.5 C12.4,3 10.6,6 10.3,8 C10.1,9.4 11.2,9.9 12,9.7 C12.8,9.5 13.4,9 13.7,8.8" fill="none" stroke="#000" stroke-width="1.178" stroke-linecap="round"/>
<text x="915.6" y="461.3" font-family="'Liberation Serif', serif" font-size="14" fill="#000" font-weight="normal" font-style="italic" text-anchor="start" >t</text>
<polygon points="921.30,442.10 922.14,444.34 924.53,444.45 922.66,445.94 923.30,448.25 921.30,446.93 919.30,448.25 919.94,445.94 918.07,444.45 920.46,444.34" fill="#000"/>
<text x="739.6" y="403.6" font-family="'Liberation Sans', sans-serif" font-size="16" fill="#e6a0e6" font-weight="normal" font-style="italic" text-anchor="start" textLength="48" lengthAdjust="spacingAndGlyphs" >Embed</text>
<path d="M764.8 320 C 748 330, 748 352, 758 362 C 768 374, 790 385, 794 400 C 797 412, 792 420, 783 430" fill="none" stroke="#e6a0e6" stroke-width="2.6" stroke-dasharray="6 4"/>
<polygon points="775.80,437.00 779.19,425.84 787.24,434.74" fill="#e6a0e6"/>
<rect x="936" y="292" width="540" height="242" rx="15" fill="#faedf8" stroke="#e8d5da" stroke-width="3" />
<rect x="930" y="287.5" width="154.5" height="37" rx="7" fill="#e41c0c" stroke="#a01008" stroke-width="1.2" />
<text x="949" y="314.8" font-family="'Liberation Sans', sans-serif" font-size="28" fill="#fff" font-weight="normal" font-style="normal" text-anchor="start" textLength="116" lengthAdjust="spacingAndGlyphs" >Inference</text>
<rect x="1023.1" y="345.5" width="81.8" height="174.7" rx="11" fill="url(#hgreen)" stroke="#a8c69c" stroke-width="3.2" />
<text x="1032" y="430" font-family="'Liberation Sans', sans-serif" font-size="19" fill="#000" font-weight="bold" font-style="italic" text-anchor="start" textLength="63" lengthAdjust="spacingAndGlyphs" >Model</text>
<text x="950" y="392" font-family="'Liberation Serif', serif" font-size="14" fill="#000" font-weight="bold" font-style="normal" text-anchor="start" >u</text>
<text x="960.5" y="394" font-family="'Liberation Serif', serif" font-size="9" fill="#000" font-weight="normal" font-style="normal" text-anchor="start" >,</text>
<path transform="translate(963.2,386.3) scale(0.9936,1.0700)" d="M0.6,3.3 C1.4,1.2 3.2,0.1 4.6,0.4 C5.4,0.6 5.6,1.2 5.5,1.6 C4.6,4.5 3.6,7.6 2.3,8.6 C1.6,9.3 0.6,9.8 0.3,9.6 M3.3,5.6 C6,5.4 8.5,5.3 10.9,5.2 M14,0.5 C12.4,3 10.6,6 10.3,8 C10.1,9.4 11.2,9.9 12,9.7 C12.8,9.5 13.4,9 13.7,8.8" fill="none" stroke="#000" stroke-width="1.211" stroke-linecap="round"/>
<text x="977" y="398.8" font-family="'Liberation Serif', serif" font-size="12.5" fill="#000" font-weight="normal" font-style="italic" text-anchor="start" >t</text>
<text x="978.7" y="388.2" font-family="'Liberation Serif', serif" font-size="12" fill="#000" font-weight="normal" font-style="normal" text-anchor="start" textLength="22.3" lengthAdjust="spacingAndGlyphs" >long</text>
<text x="945.8" y="459.8" font-family="'Liberation Serif', serif" font-size="14" fill="#000" font-weight="bold" font-style="normal" text-anchor="start" >u</text>
<text x="954" y="460" font-family="'Liberation Serif', serif" font-size="9" fill="#000" font-weight="normal" font-style="normal" text-anchor="start" >,</text>
<path transform="translate(957.8,451.0) scale(0.9936,1.0700)" d="M0.6,3.3 C1.4,1.2 3.2,0.1 4.6,0.4 C5.4,0.6 5.6,1.2 5.5,1.6 C4.6,4.5 3.6,7.6 2.3,8.6 C1.6,9.3 0.6,9.8 0.3,9.6 M3.3,5.6 C6,5.4 8.5,5.3 10.9,5.2 M14,0.5 C12.4,3 10.6,6 10.3,8 C10.1,9.4 11.2,9.9 12,9.7 C12.8,9.5 13.4,9 13.7,8.8" fill="none" stroke="#000" stroke-width="1.211" stroke-linecap="round"/>
<text x="971" y="464.6" font-family="'Liberation Serif', serif" font-size="12.5" fill="#000" font-weight="normal" font-style="italic" text-anchor="start" >t</text>
<text x="972.9" y="456" font-family="'Liberation Serif', serif" font-size="12" fill="#000" font-weight="normal" font-style="normal" text-anchor="start" textLength="27.1" lengthAdjust="spacingAndGlyphs" >short</text>
<path d="M1002.5 385.5 H1009.75 V380 L1017.0 390.0 L1009.75 400 V394.5 H1002.5 Z" fill="#bdd7ee" stroke="#2e75b6" stroke-width="1.6" />
<path d="M1002.5 452.325 H1009.75 V446 L1017.0 457.5 L1009.75 469 V462.675 H1002.5 Z" fill="#c5e0b4" stroke="#70ad47" stroke-width="1.6" />
<path d="M1109 385.225 H1116.0 V380 L1123 389.5 L1116.0 399 V393.775 H1109 Z" fill="#bdd7ee" stroke="#2e75b6" stroke-width="1.6" />
<path d="M1109 453.1875 H1116.0 V447 L1123 458.25 L1116.0 469.5 V463.3125 H1109 Z" fill="#c5e0b4" stroke="#70ad47" stroke-width="1.6" />
<text x="1129.3" y="338.4" font-family="'Liberation Serif', serif" font-size="16" fill="#000" font-weight="normal" font-style="normal" text-anchor="start" >&lt;</text>
<text x="1142.4" y="338.4" font-family="'Liberation Serif', serif" font-size="14.5" fill="#000" font-weight="normal" font-style="italic" text-anchor="start" >s</text>
<text x="1148.4" y="341.9" font-family="'Liberation Serif', serif" font-size="10" fill="#000" font-weight="normal" font-style="italic" text-anchor="start" >p</text>
<text x="1150.0" y="331.2" font-family="'Liberation Serif', serif" font-size="10" fill="#000" font-weight="normal" font-style="normal" text-anchor="start" textLength="12.2" lengthAdjust="spacingAndGlyphs" >(1)</text>
<text x="1162.7" y="339.4" font-family="'Liberation Serif', serif" font-size="13" fill="#000" font-weight="normal" font-style="normal" text-anchor="start" >,</text>
<text x="1167.4" y="338.4" font-family="'Liberation Serif', serif" font-size="14.5" fill="#000" font-weight="normal" font-style="italic" text-anchor="start" >s</text>
<text x="1173.4" y="341.9" font-family="'Liberation Serif', serif" font-size="10" fill="#000" font-weight="normal" font-style="italic" text-anchor="start" >p</text>
<text x="1175.0" y="331.2" font-family="'Liberation Serif', serif" font-size="10" fill="#000" font-weight="normal" font-style="normal" text-anchor="start" textLength="12.2" lengthAdjust="spacingAndGlyphs" >(2)</text>
<text x="1187.7" y="339.4" font-family="'Liberation Serif', serif" font-size="13" fill="#000" font-weight="normal" font-style="normal" text-anchor="start" >,</text>
<text x="1192.8" y="338.4" font-family="'Liberation Serif', serif" font-size="14.5" fill="#000" font-weight="normal" font-style="italic" text-anchor="start" >s</text>
<text x="1198.8" y="341.9" font-family="'Liberation Serif', serif" font-size="10" fill="#000" font-weight="normal" font-style="italic" text-anchor="start" >p</text>
<text x="1200.3999999999999" y="331.2" font-family="'Liberation Serif', serif" font-size="10" fill="#000" font-weight="normal" font-style="normal" text-anchor="start" textLength="12.2" lengthAdjust="spacingAndGlyphs" >(3)</text>
<text x="1216.6" y="338.4" font-family="'Liberation Serif', serif" font-size="16" fill="#000" font-weight="normal" font-style="normal" text-anchor="start" >&gt;</text>
<text x="1129.3" y="361.8" font-family="'Liberation Serif', serif" font-size="16" fill="#000" font-weight="normal" font-style="normal" text-anchor="start" >&lt;</text>
<text x="1142.4" y="361.8" font-family="'Liberation Serif', serif" font-size="14.5" fill="#000" font-weight="normal" font-style="italic" text-anchor="start" >s</text>
<text x="1148.4" y="365.3" font-family="'Liberation Serif', serif" font-size="10" fill="#000" font-weight="normal" font-style="italic" text-anchor="start" >q</text>
<text x="1150.0" y="354.6" font-family="'Liberation Serif', serif" font-size="10" fill="#000" font-weight="normal" font-style="normal" text-anchor="start" textLength="12.2" lengthAdjust="spacingAndGlyphs" >(1)</text>
<text x="1162.7" y="362.8" font-family="'Liberation Serif', serif" font-size="13" fill="#000" font-weight="normal" font-style="normal" text-anchor="start" >,</text>
<text x="1167.4" y="361.8" font-family="'Liberation Serif', serif" font-size="14.5" fill="#000" font-weight="normal" font-style="italic" text-anchor="start" >s</text>
<text x="1173.4" y="365.3" font-family="'Liberation Serif', serif" font-size="10" fill="#000" font-weight="normal" font-style="italic" text-anchor="start" >q</text>
<text x="1175.0" y="354.6" font-family="'Liberation Serif', serif" font-size="10" fill="#000" font-weight="normal" font-style="normal" text-anchor="start" textLength="12.2" lengthAdjust="spacingAndGlyphs" >(2)</text>
<text x="1187.7" y="362.8" font-family="'Liberation Serif', serif" font-size="13" fill="#000" font-weight="normal" font-style="normal" text-anchor="start" >,</text>
<text x="1192.8" y="361.8" font-family="'Liberation Serif', serif" font-size="14.5" fill="#000" font-weight="normal" font-style="italic" text-anchor="start" >s</text>
<text x="1198.8" y="365.3" font-family="'Liberation Serif', serif" font-size="10" fill="#000" font-weight="normal" font-style="italic" text-anchor="start" >q</text>
<text x="1200.3999999999999" y="354.6" font-family="'Liberation Serif', serif" font-size="10" fill="#000" font-weight="normal" font-style="normal" text-anchor="start" textLength="12.2" lengthAdjust="spacingAndGlyphs" >(3)</text>
<text x="1216.6" y="361.8" font-family="'Liberation Serif', serif" font-size="16" fill="#000" font-weight="normal" font-style="normal" text-anchor="start" >&gt;</text>
<text x="1129.3" y="399.3" font-family="'Liberation Serif', serif" font-size="16" fill="#000" font-weight="normal" font-style="normal" text-anchor="start" >&lt;</text>
<text x="1142.4" y="399.3" font-family="'Liberation Serif', serif" font-size="14.5" fill="#000" font-weight="normal" font-style="italic" text-anchor="start" >s</text>
<text x="1148.4" y="402.8" font-family="'Liberation Serif', serif" font-size="10" fill="#000" font-weight="normal" font-style="italic" text-anchor="start" >m</text>
<text x="1150.0" y="392.1" font-family="'Liberation Serif', serif" font-size="10" fill="#000" font-weight="normal" font-style="normal" text-anchor="start" textLength="12.2" lengthAdjust="spacingAndGlyphs" >(1)</text>
<text x="1162.7" y="400.3" font-family="'Liberation Serif', serif" font-size="13" fill="#000" font-weight="normal" font-style="normal" text-anchor="start" >,</text>
<text x="1167.4" y="399.3" font-family="'Liberation Serif', serif" font-size="14.5" fill="#000" font-weight="normal" font-style="italic" text-anchor="start" >s</text>
<text x="1173.4" y="402.8" font-family="'Liberation Serif', serif" font-size="10" fill="#000" font-weight="normal" font-style="italic" text-anchor="start" >m</text>
<text x="1175.0" y="392.1" font-family="'Liberation Serif', serif" font-size="10" fill="#000" font-weight="normal" font-style="normal" text-anchor="start" textLength="12.2" lengthAdjust="spacingAndGlyphs" >(2)</text>
<text x="1187.7" y="400.3" font-family="'Liberation Serif', serif" font-size="13" fill="#000" font-weight="normal" font-style="normal" text-anchor="start" >,</text>
<text x="1192.8" y="399.3" font-family="'Liberation Serif', serif" font-size="14.5" fill="#000" font-weight="normal" font-style="italic" text-anchor="start" >s</text>
<text x="1198.8" y="402.8" font-family="'Liberation Serif', serif" font-size="10" fill="#000" font-weight="normal" font-style="italic" text-anchor="start" >m</text>
<text x="1200.3999999999999" y="392.1" font-family="'Liberation Serif', serif" font-size="10" fill="#000" font-weight="normal" font-style="normal" text-anchor="start" textLength="12.2" lengthAdjust="spacingAndGlyphs" >(3)</text>
<text x="1216.6" y="399.3" font-family="'Liberation Serif', serif" font-size="16" fill="#000" font-weight="normal" font-style="normal" text-anchor="start" >&gt;</text>
<text x="1129.3" y="455.6" font-family="'Liberation Serif', serif" font-size="16" fill="#000" font-weight="normal" font-style="normal" text-anchor="start" >&lt;</text>
<text x="1142.4" y="455.6" font-family="'Liberation Serif', serif" font-size="14.5" fill="#000" font-weight="normal" font-style="italic" text-anchor="start" >s</text>
<text x="1148.4" y="459.1" font-family="'Liberation Serif', serif" font-size="10" fill="#000" font-weight="normal" font-style="italic" text-anchor="start" >r</text>
<text x="1150.0" y="448.40000000000003" font-family="'Liberation Serif', serif" font-size="10" fill="#000" font-weight="normal" font-style="normal" text-anchor="start" textLength="12.2" lengthAdjust="spacingAndGlyphs" >(1)</text>
<text x="1162.7" y="456.6" font-family="'Liberation Serif', serif" font-size="13" fill="#000" font-weight="normal" font-style="normal" text-anchor="start" >,</text>
<text x="1167.4" y="455.6" font-family="'Liberation Serif', serif" font-size="14.5" fill="#000" font-weight="normal" font-style="italic" text-anchor="start" >s</text>
<text x="1173.4" y="459.1" font-family="'Liberation Serif', serif" font-size="10" fill="#000" font-weight="normal" font-style="italic" text-anchor="start" >r</text>
<text x="1175.0" y="448.40000000000003" font-family="'Liberation Serif', serif" font-size="10" fill="#000" font-weight="normal" font-style="normal" text-anchor="start" textLength="12.2" lengthAdjust="spacingAndGlyphs" >(2)</text>
<text x="1187.7" y="456.6" font-family="'Liberation Serif', serif" font-size="13" fill="#000" font-weight="normal" font-style="normal" text-anchor="start" >,</text>
<text x="1192.8" y="455.6" font-family="'Liberation Serif', serif" font-size="14.5" fill="#000" font-weight="normal" font-style="italic" text-anchor="start" >s</text>
<text x="1198.8" y="459.1" font-family="'Liberation Serif', serif" font-size="10" fill="#000" font-weight="normal" font-style="italic" text-anchor="start" >r</text>
<text x="1200.3999999999999" y="448.40000000000003" font-family="'Liberation Serif', serif" font-size="10" fill="#000" font-weight="normal" font-style="normal" text-anchor="start" textLength="12.2" lengthAdjust="spacingAndGlyphs" >(3)</text>
<text x="1216.6" y="455.6" font-family="'Liberation Serif', serif" font-size="16" fill="#000" font-weight="normal" font-style="normal" text-anchor="start" >&gt;</text>
<text x="1129.3" y="481.3" font-family="'Liberation Serif', serif" font-size="16" fill="#000" font-weight="normal" font-style="normal" text-anchor="start" >&lt;</text>
<text x="1142.4" y="481.3" font-family="'Liberation Serif', serif" font-size="14.5" fill="#000" font-weight="normal" font-style="italic" text-anchor="start" >s</text>
<text x="1148.4" y="484.8" font-family="'Liberation Serif', serif" font-size="10" fill="#000" font-weight="normal" font-style="italic" text-anchor="start" >w</text>
<text x="1150.0" y="474.1" font-family="'Liberation Serif', serif" font-size="10" fill="#000" font-weight="normal" font-style="normal" text-anchor="start" textLength="12.2" lengthAdjust="spacingAndGlyphs" >(1)</text>
<text x="1162.7" y="482.3" font-family="'Liberation Serif', serif" font-size="13" fill="#000" font-weight="normal" font-style="normal" text-anchor="start" >,</text>
<text x="1167.4" y="481.3" font-family="'Liberation Serif', serif" font-size="14.5" fill="#000" font-weight="normal" font-style="italic" text-anchor="start" >s</text>
<text x="1173.4" y="484.8" font-family="'Liberation Serif', serif" font-size="10" fill="#000" font-weight="normal" font-style="italic" text-anchor="start" >w</text>
<text x="1175.0" y="474.1" font-family="'Liberation Serif', serif" font-size="10" fill="#000" font-weight="normal" font-style="normal" text-anchor="start" textLength="12.2" lengthAdjust="spacingAndGlyphs" >(2)</text>
<text x="1187.7" y="482.3" font-family="'Liberation Serif', serif" font-size="13" fill="#000" font-weight="normal" font-style="normal" text-anchor="start" >,</text>
<text x="1192.8" y="481.3" font-family="'Liberation Serif', serif" font-size="14.5" fill="#000" font-weight="normal" font-style="italic" text-anchor="start" >s</text>
<text x="1198.8" y="484.8" font-family="'Liberation Serif', serif" font-size="10" fill="#000" font-weight="normal" font-style="italic" text-anchor="start" >w</text>
<text x="1200.3999999999999" y="474.1" font-family="'Liberation Serif', serif" font-size="10" fill="#000" font-weight="normal" font-style="normal" text-anchor="start" textLength="12.2" lengthAdjust="spacingAndGlyphs" >(3)</text>
<text x="1216.6" y="481.3" font-family="'Liberation Serif', serif" font-size="16" fill="#000" font-weight="normal" font-style="normal" text-anchor="start" >&gt;</text>
<text x="1129.3" y="518" font-family="'Liberation Serif', serif" font-size="16" fill="#000" font-weight="normal" font-style="normal" text-anchor="start" >&lt;</text>
<text x="1142.4" y="518" font-family="'Liberation Serif', serif" font-size="14.5" fill="#000" font-weight="normal" font-style="italic" text-anchor="start" >s</text>
<text x="1148.4" y="521.5" font-family="'Liberation Serif', serif" font-size="10" fill="#000" font-weight="normal" font-style="italic" text-anchor="start" >n</text>
<text x="1150.0" y="510.8" font-family="'Liberation Serif', serif" font-size="10" fill="#000" font-weight="normal" font-style="normal" text-anchor="start" textLength="12.2" lengthAdjust="spacingAndGlyphs" >(1)</text>
<text x="1162.7" y="519" font-family="'Liberation Serif', serif" font-size="13" fill="#000" font-weight="normal" font-style="normal" text-anchor="start" >,</text>
<text x="1167.4" y="518" font-family="'Liberation Serif', serif" font-size="14.5" fill="#000" font-weight="normal" font-style="italic" text-anchor="start" >s</text>
<text x="1173.4" y="521.5" font-family="'Liberation Serif', serif" font-size="10" fill="#000" font-weight="normal" font-style="italic" text-anchor="start" >n</text>
<text x="1175.0" y="510.8" font-family="'Liberation Serif', serif" font-size="10" fill="#000" font-weight="normal" font-style="normal" text-anchor="start" textLength="12.2" lengthAdjust="spacingAndGlyphs" >(2)</text>
<text x="1187.7" y="519" font-family="'Liberation Serif', serif" font-size="13" fill="#000" font-weight="normal" font-style="normal" text-anchor="start" >,</text>
<text x="1192.8" y="518" font-family="'Liberation Serif', serif" font-size="14.5" fill="#000" font-weight="normal" font-style="italic" text-anchor="start" >s</text>
<text x="1198.8" y="521.5" font-family="'Liberation Serif', serif" font-size="10" fill="#000" font-weight="normal" font-style="italic" text-anchor="start" >n</text>
<text x="1200.3999999999999" y="510.8" font-family="'Liberation Serif', serif" font-size="10" fill="#000" font-weight="normal" font-style="normal" text-anchor="start" textLength="12.2" lengthAdjust="spacingAndGlyphs" >(3)</text>
<text x="1216.6" y="518" font-family="'Liberation Serif', serif" font-size="16" fill="#000" font-weight="normal" font-style="normal" text-anchor="start" >&gt;</text>
<text x="1142" y="377" font-family="'Liberation Sans', sans-serif" font-size="13" fill="#000" font-weight="normal" font-style="normal" text-anchor="start" >...</text>
<text x="1142" y="495" font-family="'Liberation Sans', sans-serif" font-size="13" fill="#000" font-weight="normal" font-style="normal" text-anchor="start" >...</text>
<path d="M1141.6 427.8 C1130 427 1130 419 1140.8 418.3 C1140 411 1158 408 1164.9 411.6 C1168 406 1180 405 1182.3 410 C1184 405 1194 405 1197.3 409.1 C1202 404 1215 406 1217.2 411.6 C1226 412 1228 419 1222.2 420.8 C1232 424 1226 432 1215.5 430.7 C1219 436 1205 438 1195.6 435.7 C1192 443 1174 443 1168.2 437.4 C1160 442 1148 441 1145.8 434.9 C1134 437 1128 430 1141.6 427.8 Z" fill="none" stroke="#000" stroke-width="1.5" />
<text x="1143.3" y="427.4" font-family="'Liberation Sans', sans-serif" font-size="11.5" fill="#000" font-weight="normal" font-style="italic" text-anchor="start" textLength="69" lengthAdjust="spacingAndGlyphs" >Beam Search</text>
<rect x="1126.3" y="317.6" width="102.5" height="88" rx="12" fill="none" stroke="#0070c0" stroke-width="2.8" stroke-dasharray="9.7 7.3"/>
<rect x="1125.3" y="439" width="103.5" height="87.2" rx="12" fill="none" stroke="#5b9a3a" stroke-width="2.8" stroke-dasharray="9.7 7.3"/>
<path d="M1234 380 Q1248 382 1248 400 V415 Q1250 427 1261 427 Q1250 427 1248 440 V460 Q1248 477 1234 477" fill="none" stroke="#4472c4" stroke-width="2" />
<text x="1259.4" y="413" font-family="'Liberation Sans', sans-serif" font-size="17" fill="#000" font-weight="normal" font-style="italic" text-anchor="start" textLength="105" lengthAdjust="spacingAndGlyphs" >Merge&amp;Dedup</text>
<path d="M1265.6 422.6 H1352 V418 L1365 427.3 L1352 437 V432 H1265.6 Z" fill="#8faadc" stroke="none" stroke-width="0" />
<text x="1264" y="452" font-family="'Liberation Sans', sans-serif" font-size="17" fill="#000" font-weight="normal" font-style="italic" text-anchor="start" textLength="82" lengthAdjust="spacingAndGlyphs" >Re-mapped</text>
<rect x="1378" y="337.1" width="27.5" height="51.7" rx="2" fill="#000" stroke="none" stroke-width="0" />
<rect x="1388" y="339.40000000000003" width="7.2" height="2.6" rx="1.3" fill="#e8e8e8" stroke="none" stroke-width="0" />
<g transform="translate(1381,343.6)"><clipPath id="cp1378337"><rect width="22" height="40.7"/></clipPath><g clip-path="url(#cp1378337)"><g filter="url(#blur1)"><rect width="22" height="41" fill="#c58a5a"/><rect width="22" height="12" fill="#3d5a7a"/><rect x="6" y="4" width="8" height="22" fill="#d9733a"/><ellipse cx="11" cy="30" rx="11" ry="8" fill="#f0e6dc"/><ellipse cx="11" cy="29" rx="8" ry="5" fill="#b8401c"/><rect x="0" y="36" width="22" height="5" fill="#c89a70"/></g></g></g>
<rect x="1418" y="337.1" width="27.5" height="51.7" rx="2" fill="#000" stroke="none" stroke-width="0" />
<rect x="1428" y="339.40000000000003" width="7.2" height="2.6" rx="1.3" fill="#e8e8e8" stroke="none" stroke-width="0" />
<g transform="translate(1421,343.6)"><clipPath id="cp1418337"><rect width="22" height="40.7"/></clipPath><g clip-path="url(#cp1418337)"><g filter="url(#blur1)"><rect width="22" height="41" fill="#a8541c"/><rect width="22" height="4" fill="#3a2a1a"/><rect x="2" y="9" width="18" height="3" fill="#6aa0d8"/><ellipse cx="8" cy="20" rx="5" ry="4" fill="#e2a040"/><rect x="8" y="15" width="8" height="3.5" fill="#e070a0"/><rect x="5" y="22" width="12" height="3.5" fill="#d04a8a"/><ellipse cx="14" cy="32" rx="6" ry="5" fill="#e8a848"/><rect x="0" y="37" width="22" height="4" fill="#5a3010"/></g></g></g>
<rect x="1378" y="399.1" width="27.5" height="51.7" rx="2" fill="#000" stroke="none" stroke-width="0" />
<rect x="1388" y="401.40000000000003" width="7.2" height="2.6" rx="1.3" fill="#e8e8e8" stroke="none" stroke-width="0" />
<g transform="translate(1381,405.6)"><clipPath id="cp1378399"><rect width="22" height="40.7"/></clipPath><g clip-path="url(#cp1378399)"><g filter="url(#blur1)"><rect width="22" height="41" fill="#b8b4a8"/><rect width="22" height="6" fill="#d8dce0"/><rect y="3" x="3" width="15" height="3" fill="#5a9a6a"/><rect y="6" width="22" height="6" fill="#4a6a48"/><rect y="12" width="22" height="7" fill="#707a70"/><ellipse cx="11" cy="21" rx="10" ry="4.5" fill="#1a1c20"/><rect y="26" width="22" height="15" fill="#a8a49a"/></g></g></g>
<rect x="1418" y="399.1" width="27.5" height="51.7" rx="2" fill="#000" stroke="none" stroke-width="0" />
<rect x="1428" y="401.40000000000003" width="7.2" height="2.6" rx="1.3" fill="#e8e8e8" stroke="none" stroke-width="0" />
<g transform="translate(1421,405.6)"><clipPath id="cp1418399"><rect width="22" height="40.7"/></clipPath><g clip-path="url(#cp1418399)"><g filter="url(#blur1)"><rect width="22" height="41" fill="#3f8a3a"/><rect width="22" height="4" fill="#2a2a40"/><rect x="2" y="4.5" width="18" height="4" fill="#e6c020"/><rect y="9" width="22" height="3" fill="#3050a0"/><circle cx="9" cy="18" r="1.2" fill="#e04030"/><circle cx="14" cy="20" r="1.2" fill="#e04030"/><circle cx="11" cy="24" r="1.2" fill="#f0f0f0"/><rect y="30" width="22" height="11" fill="#4a9a44"/></g></g></g>
<rect x="1378" y="457.4" width="27.5" height="51.7" rx="2" fill="#000" stroke="none" stroke-width="0" />
<rect x="1388" y="459.7" width="7.2" height="2.6" rx="1.3" fill="#e8e8e8" stroke="none" stroke-width="0" />
<g transform="translate(1381,463.9)"><clipPath id="cp1378457"><rect width="22" height="40.7"/></clipPath><g clip-path="url(#cp1378457)"><g filter="url(#blur1)"><rect width="22" height="41" fill="#2a3a8a"/><rect y="0" width="22" height="10" fill="#3a56c8"/><rect x="3" y="8" width="16" height="4" fill="#e8e8f0"/><ellipse cx="11" cy="21" rx="6" ry="7" fill="#a06a48"/><rect x="2" y="27" width="18" height="3" fill="#d0b020"/><rect y="33" width="22" height="8" fill="#6a3a9a"/></g></g></g>
<rect x="1418" y="457.4" width="27.5" height="51.7" rx="2" fill="#000" stroke="none" stroke-width="0" />
<rect x="1428" y="459.7" width="7.2" height="2.6" rx="1.3" fill="#e8e8e8" stroke="none" stroke-width="0" />
<g transform="translate(1421,463.9)"><clipPath id="cp1418457"><rect width="22" height="40.7"/></clipPath><g clip-path="url(#cp1418457)"><g filter="url(#blur1)"><rect width="22" height="41" fill="#c86a5a"/><rect width="22" height="7" fill="#e8b8d8"/><circle cx="6" cy="14" r="4" fill="#8a4a3a"/><circle cx="16" cy="13" r="4" fill="#9a5a40"/><rect y="19" width="22" height="10" fill="#c83a2a"/><rect x="3" y="23" width="16" height="3" fill="#9aa0e8"/><rect y="30" width="22" height="11" fill="#a8c0e8"/></g></g></g>
<text x="1406" y="524" font-family="'Liberation Sans', sans-serif" font-size="14" fill="#000" font-weight="bold" font-style="normal" text-anchor="start" >...</text></svg>
</body></html>
